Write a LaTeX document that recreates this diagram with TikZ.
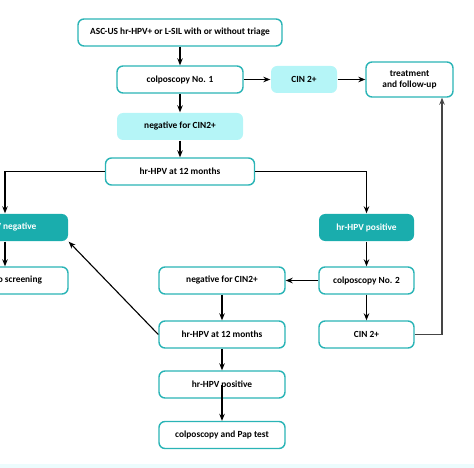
\documentclass[tikz,border=0pt]{standalone}
\usepackage{fontspec}
\setmainfont{Carlito}
\usetikzlibrary{arrows.meta}
\definecolor{tealline}{HTML}{2AB4B6}
\definecolor{tealfill}{HTML}{1AADAD}
\definecolor{cyanfill}{HTML}{B5F5F7}
\definecolor{linkgray}{HTML}{454545}
\begin{document}
\begin{tikzpicture}[x=1bp, y=-1bp,
    box/.style={draw=tealline, line width=1.4bp, rounded corners=6bp, fill=white,
        minimum height=27bp, inner sep=0pt, align=center,
        font=\bfseries\fontsize{9.4}{11}\selectfont},
    softbox/.style={box, draw=none, fill=cyanfill},
    darkbox/.style={box, draw=none, fill=tealfill, text=white},
    arr/.style={-{Stealth[length=7bp, width=5.5bp]}, line width=1.1bp}]

    % 画布大小和裁剪
    \useasboundingbox (0,0) rectangle (474,468);
    \clip (0,0) rectangle (474,468);
    \fill[cyanfill!25] (0,464) rectangle (474,468); % 底部浅色细条

    % 第一列: 初始检查
    \node[box, minimum width=204bp] (start) at (180,32.5) {ASC-US hr-HPV+ or L-SIL with or without triage};
    \node[box, minimum width=126bp] (colpoA) at (180,79.5) {colposcopy No. 1};
    \node[softbox, minimum width=66bp] (cinA) at (304,79.5) {CIN 2+};
    \node[box, minimum width=87bp, minimum height=35bp] (treat) at (409.5,79.5) {treatment\\and follow-up};
    \node[softbox, minimum width=126bp] (negA) at (180,126.5) {negative for CIN2+};
    \node[box, minimum width=149bp] (hpvA) at (180,171.5) {hr-HPV at 12 months};

    % 左侧分支 (被画布截断)
    \node[darkbox, minimum width=126bp] (hpvneg) at (5,227.5) {hr-HPV negative};
    \node[box, minimum width=126bp] (screen) at (5,280.5) {return to screening};

    % 右侧分支
    \node[darkbox, minimum width=95bp] (hpvpos) at (366.5,227.5) {hr-HPV positive};
    \node[box, minimum width=95bp] (colpoB) at (366.5,280.5) {colposcopy No. 2};
    \node[box, minimum width=95bp] (cinB) at (366.5,334.5) {CIN 2+};

    % 中间一列: 第二次随访
    \node[box, minimum width=126bp] (negB) at (222,280.5) {negative for CIN2+};
    \node[box, minimum width=126bp] (hpvB) at (222,334.5) {hr-HPV at 12 months};
    \node[box, minimum width=126bp] (posB) at (222,384.5) {hr-HPV positive};
    \node[box, minimum width=126bp] (pap) at (222,435) {colposcopy and Pap test};

    % 箭头
    \draw[arr] (start) -- (colpoA);
    \draw[arr] (colpoA) -- (cinA);
    \draw[arr] (cinA) -- (treat);
    \draw[arr] (colpoA) -- (negA);
    \draw[arr] (negA) -- (hpvA);
    \draw[arr] (hpvA.west) -| (hpvneg.north); % 向左
    \draw[arr] (hpvA.east) -| (hpvpos.north); % 向右
    \draw[arr] (hpvneg) -- (screen);
    \draw[arr] (hpvpos) -- (colpoB);
    \draw[arr] (colpoB) -- (cinB);
    \draw[arr] (colpoB) -- (negB);
    \draw[arr] (negB) -- (hpvB);
    \draw[arr] (hpvB) -- (posB);
    \draw[arr] (posB.center) -- (pap.north); % 从框中间画出
    \draw[arr] (hpvB.west) -- (hpvneg.south east); % 斜线回到阴性

    % CIN 2+ 回到治疗
    \coordinate (turn) at (442,334.5);
    \draw[-{Stealth[length=7bp, width=5.5bp]}, line width=1.8bp, linkgray]
        (cinB.east) -- (turn) -- (turn |- treat.south);
\end{tikzpicture}
\end{document}
